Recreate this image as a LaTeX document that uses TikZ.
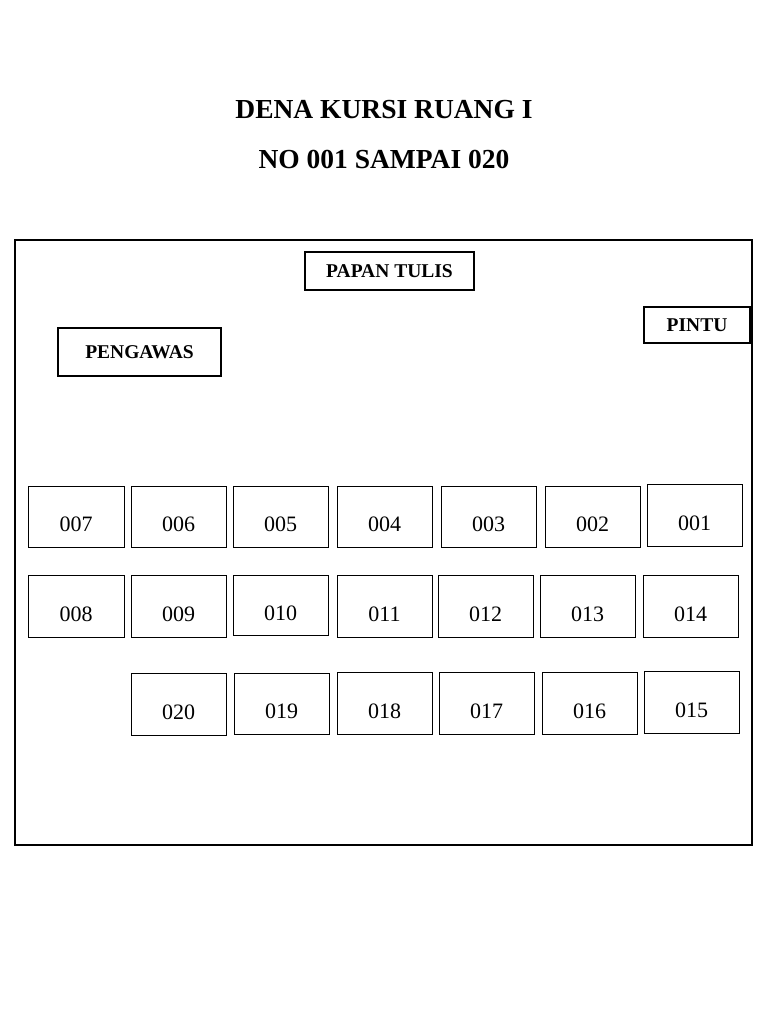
\documentclass[tikz,border=0pt]{standalone}
\usepackage{fontspec}
\setmainfont{Liberation Serif}
\begin{document}
\begin{tikzpicture}[x=1pt,y=-1pt,
  seat/.style={draw,line width=0.8pt,inner sep=0pt},
  lbl/.style={draw,line width=2.4pt,font=\bfseries\fontsize{19.5}{22}\selectfont,inner sep=0pt},
  num/.style={font=\fontsize{22}{26}\selectfont}]
\useasboundingbox (0,0) rectangle (768,1024);
\node[font=\bfseries\fontsize{27.5}{32}\selectfont] (t1) at (384,110) {DENA KURSI RUANG I};
\node[font=\bfseries\fontsize{27.5}{32}\selectfont] (t2) at (384,159) {NO 001 SAMPAI 020};
\draw[line width=2.5pt] (15,240) rectangle (752,845);
\node[lbl,minimum width=169,minimum height=38] (papan) at (389.5,271) {PAPAN TULIS};
\node[lbl,minimum width=163,minimum height=48] (peng) at (139.5,352) {PENGAWAS};
\node[lbl,minimum width=106,minimum height=36] (pintu) at (697,325) {PINTU};
\foreach \n/\a/\b/\t/\u in {
 007/28/124/486/547, 006/131/226/486/547, 005/233/328/486/547, 004/337/432/486/547,
 003/441/536/486/547, 002/545/640/486/547, 001/647/742/484/546,
 008/28/124/575/637, 009/131/226/575/637, 010/233/328/575/635, 011/337/432/575/637,
 012/438/533/575/637, 013/540/635/575/637, 014/643/738/575/637,
 020/131/226/673/735, 019/234/329/673/734, 018/337/432/672/734, 017/439/534/672/734,
 016/542/637/672/734, 015/644/739/671/733}{
 \node[seat,minimum width={\b-\a},minimum height={\u-\t}] (s\n) at ({(\a+\b)/2},{(\t+\u)/2}) {};
 \node[num] (n\n) at ({(\a+\b)/2},{(\t+\u)/2+8}) {\n};
}
\end{tikzpicture}
\end{document}
